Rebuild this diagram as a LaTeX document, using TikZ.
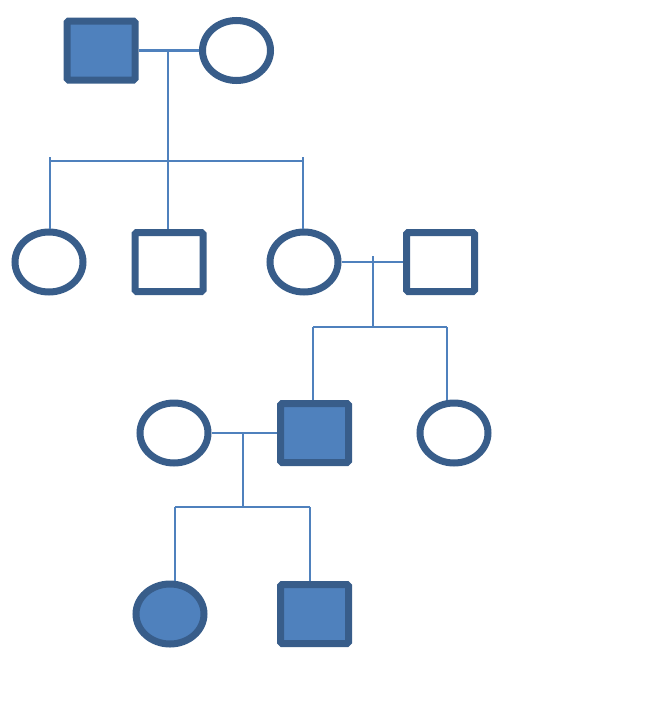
\documentclass[tikz,border=0pt]{standalone}
\usetikzlibrary{shapes.geometric}
\definecolor{edgeblue}{HTML}{385D8A}
\definecolor{fillblue}{HTML}{4F81BD}
\begin{document}
\begin{tikzpicture}[x=1pt,y=-1pt,
  person/.style={draw=edgeblue,line width=7pt,inner sep=0pt,fill=white},
  male/.style={person,rectangle,rounded corners=1.5pt,minimum width=68pt,minimum height=59pt},
  female/.style={person,ellipse,minimum width=68pt,minimum height=60pt},
  affected/.style={fill=fillblue},
  link/.style={draw=fillblue,line width=2.6pt}]
\useasboundingbox (0,0) rectangle (661,712);

% Generation I
\node[male,affected] (i1) at (101,50.5) {};
\node[female] (i2) at (236.5,50.5) {};
% Generation II
\node[female] (ii1) at (49,262) {};
\node[male] (ii2) at (169,262) {};
\node[female] (ii3) at (304,262) {};
\node[male] (ii4) at (440.5,262) {};
% Generation III
\node[female] (iii1) at (174,433) {};
\node[male,affected] (iii2) at (314.5,433) {};
\node[female] (iii3) at (454,433) {};
% Generation IV
\node[female,affected] (iv1) at (170,614) {};
\node[male,affected] (iv2) at (314.5,614) {};

% family 1
\coordinate (m1) at (168,50.5);
\coordinate (s1) at (168,161);
\coordinate (s1l) at (50,161);
\coordinate (s1lt) at (50,157);
\coordinate (s1r) at (303,161);
\coordinate (s1rt) at (303,157);
\draw[link] (i1.east) -- (i2.west);
\draw[link] (m1) -- (s1);
\draw[link] (s1lt) -- (s1l) -- (s1r) -- (s1rt);
\draw[link] (s1l) -- (s1l |- ii1.north);
\draw[link] (s1) -- (s1 |- ii2.north);
\draw[link] (s1r) -- (s1r |- ii3.north);

% family 2
\coordinate (m2) at (373,256);
\coordinate (s2) at (373,327);
\coordinate (s2l) at (313,327);
\coordinate (s2r) at (447,327);
\draw[link] (ii3.east) -- (ii4.west);
\draw[link] (m2) -- (s2);
\draw[link] (s2l) -- (s2r);
\draw[link] (s2l) -- (s2l |- iii2.north);
\draw[link] (s2r) -- (s2r |- iii3.north);

% family 3
\coordinate (m3) at (243,433);
\coordinate (s3) at (243,507);
\coordinate (s3l) at (175,507);
\coordinate (s3r) at (310,507);
\draw[link] (iii1.east) -- (iii2.west);
\draw[link] (m3) -- (s3);
\draw[link] (s3l) -- (s3r);
\draw[link] (s3l) -- (s3l |- iv1.north);
\draw[link] (s3r) -- (s3r |- iv2.north);
\end{tikzpicture}
\end{document}
